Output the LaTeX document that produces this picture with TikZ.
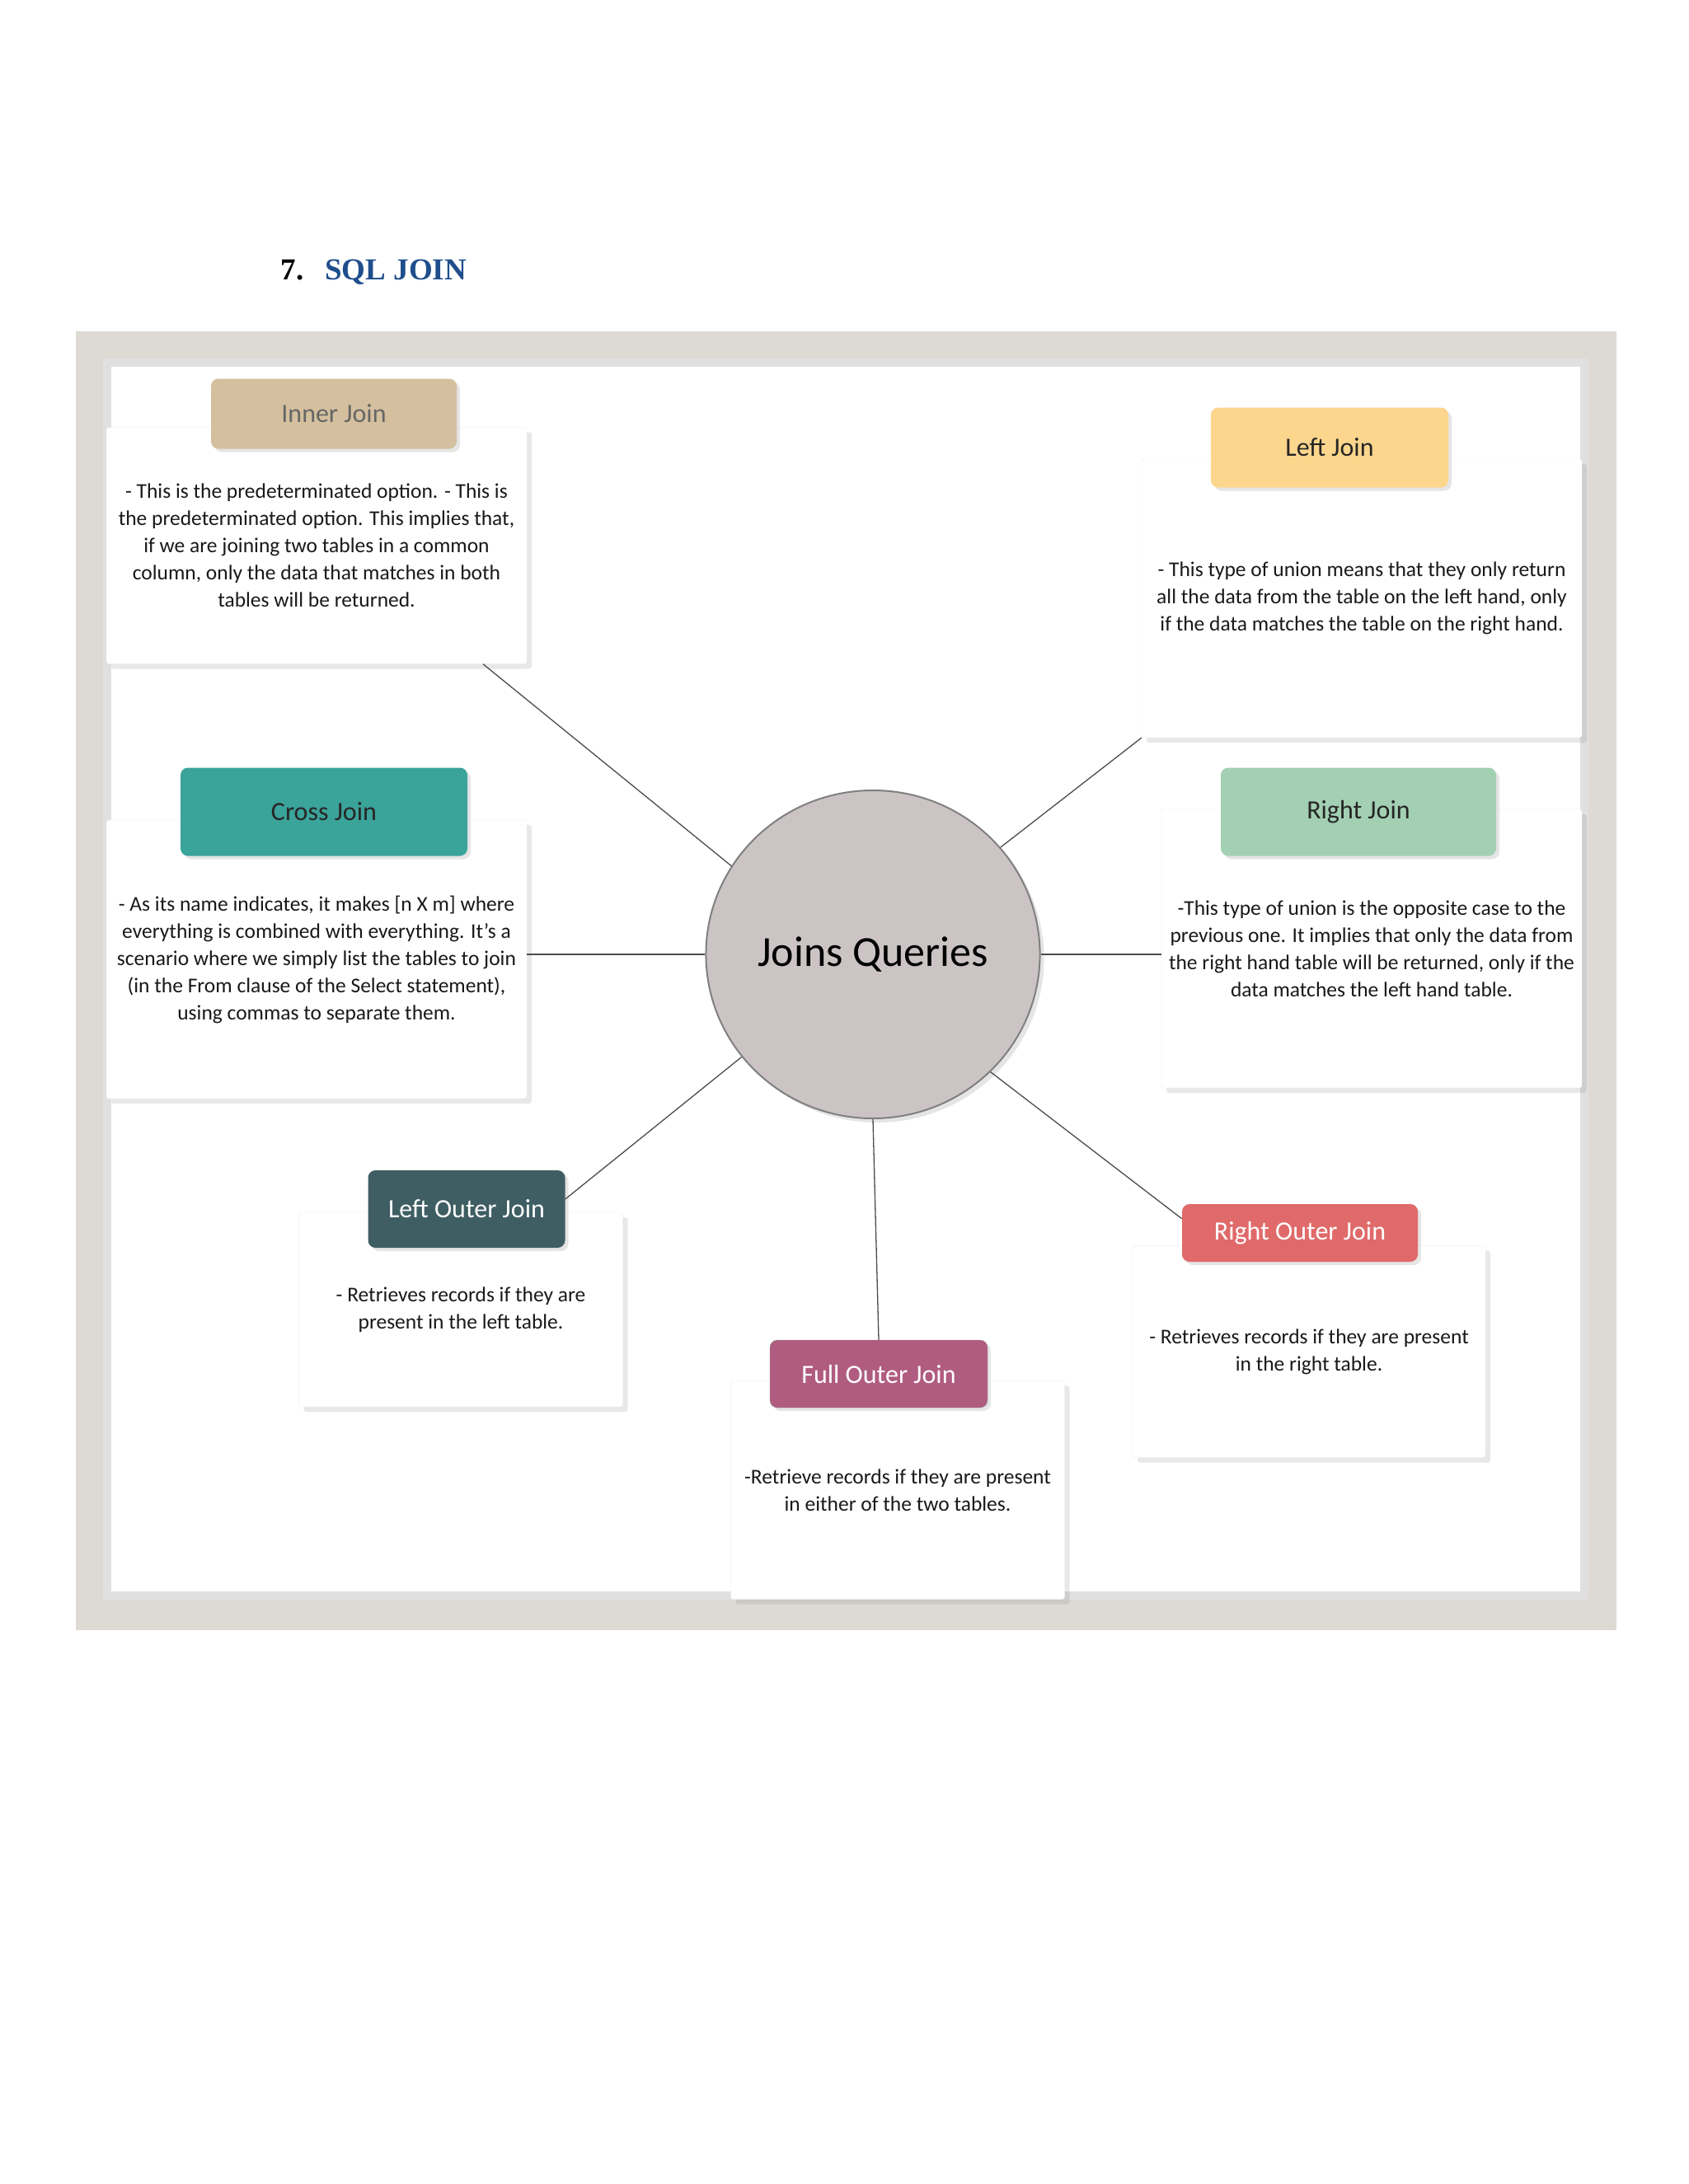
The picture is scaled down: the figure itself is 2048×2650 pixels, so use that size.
\documentclass[tikz,border=0pt]{standalone}
\usepackage{fontspec}
\setmainfont{Carlito}
\newfontfamily\titlefont{Liberation Serif}
\usetikzlibrary{shadows,shapes.geometric}
\definecolor{frameC}{HTML}{DCDAD3}
\definecolor{innerC}{HTML}{D4C09E}
\definecolor{leftC}{HTML}{FCD68C}
\definecolor{crossC}{HTML}{3AA39A}
\definecolor{rightC}{HTML}{A3D0B3}
\definecolor{loC}{HTML}{3F5E63}
\definecolor{foC}{HTML}{B05C80}
\definecolor{roC}{HTML}{E06A6A}
\definecolor{ellC}{HTML}{CCC4C4}
\definecolor{titleB}{HTML}{1F4E8C}
\tikzset{
 card/.style={rectangle, fill=white, draw=black!8, rounded corners=3pt, align=center,
   font=\fontsize{25.5}{33}\selectfont, text=black!90,
   drop shadow={shadow xshift=6pt, shadow yshift=-6pt, opacity=0.18}},
 tabbox/.style={rectangle, rounded corners=9pt, align=center,
   font=\fontsize{32}{36}\selectfont,
   drop shadow={shadow xshift=4pt, shadow yshift=-4pt, opacity=0.2}},
 conn/.style={draw=black!70, line width=1.3pt}
}
\begin{document}
\begin{tikzpicture}[x=1pt,y=-1pt]
\useasboundingbox (0,0) rectangle (2048,2650);
\fill[white] (0,0) rectangle (2048,2650);
% title
\node[anchor=west, font=\titlefont\bfseries\fontsize{37}{42}\selectfont] (title) at (337,330) {7.\hspace{26pt}\textcolor{titleB}{SQL JOIN}};
% frame
\fill[frameC] (92,402) rectangle (1961,1978);
\fill[black!12] (125,435) rectangle (1927,1941);
\fill[white] (135,445) rectangle (1917,1931);
% ellipse
\node[ellipse, minimum width=370pt, minimum height=398pt, fill=ellC, draw=black!50, line width=2pt,
  font=\fontsize{52}{58}\selectfont, drop shadow={shadow xshift=5pt, shadow yshift=-5pt, opacity=0.2}] (q) at (1059,1158) {Joins Queries};
% cards
\node[card, minimum width=510pt, minimum height=287pt] (ib) at (384,662)
 {- This is the predeterminated option. - This is\\ the predeterminated option. This implies that,\\ if we are joining two tables in a common\\ column, only the data that matches in both\\ tables will be returned.};
\node[card, minimum width=534pt, minimum height=338pt] (lb) at (1652,726)
 {- This type of union means that they only return\\ all the data from the table on the left hand, only\\ if the data matches the table on the right hand.};
\node[card, minimum width=510pt, minimum height=338pt] (cb) at (384,1164)
 {- As its name indicates, it makes [n X m] where\\ everything is combined with everything. It's a\\ scenario where we simply list the tables to join\\ (in the From clause of the Select statement),\\ using commas to separate them.};
\node[card, minimum width=510pt, minimum height=338pt] (rb) at (1664,1151)
 {-This type of union is the opposite case to the\\ previous one. It implies that only the data from\\ the right hand table will be returned, only if the\\ data matches the left hand table.};
\node[card, minimum width=393pt, minimum height=236pt] (lob) at (559,1589)
 {- Retrieves records if they are\\ present in the left table.};
\node[card, minimum width=405pt, minimum height=265pt] (fob) at (1089,1808)
 {-Retrieve records if they are present\\ in either of the two tables.};
\node[card, minimum width=428pt, minimum height=257pt] (rob) at (1588,1640)
 {- Retrieves records if they are present\\ in the right table.};
% tabs
\node[tabbox, fill=innerC, text=black!60, minimum width=298pt, minimum height=85pt] (ibt) at (405,502) {Inner Join};
\node[tabbox, fill=leftC, text=black!85, minimum width=288pt, minimum height=97pt] (lbt) at (1613,543) {Left Join};
\node[tabbox, fill=crossC, text=black!85, minimum width=348pt, minimum height=107pt] (cbt) at (393,985) {Cross Join};
\node[tabbox, fill=rightC, text=black!85, minimum width=334pt, minimum height=107pt] (rbt) at (1648,985) {Right Join};
\node[tabbox, fill=loC, text=white, minimum width=239pt, minimum height=94pt] (lot) at (566,1467) {Left Outer Join};
\node[tabbox, fill=foC, text=white, draw=black!40, minimum width=264pt, minimum height=82pt] (fot) at (1066,1667) {Full Outer Join};
\node[tabbox, fill=roC, text=white, minimum width=286pt, minimum height=70pt] (rot) at (1577,1496) {Right Outer Join};
% connectors
\draw[conn] (q.148) -- ([xshift=202pt]ib.south);
\draw[conn] (q.40) -- (lb.south west);
\draw[conn] (q.west) -- (q.west -| cb.east);
\draw[conn] (q.east) -- (q.east -| rb.west);
\draw[conn] (q.218) -- ([yshift=12pt]lot.east);
\draw[conn] (q.south) -- (fot.north);
\draw[conn] (q.315) -- ([yshift=-18pt]rot.north west);
\end{tikzpicture}
\end{document}
